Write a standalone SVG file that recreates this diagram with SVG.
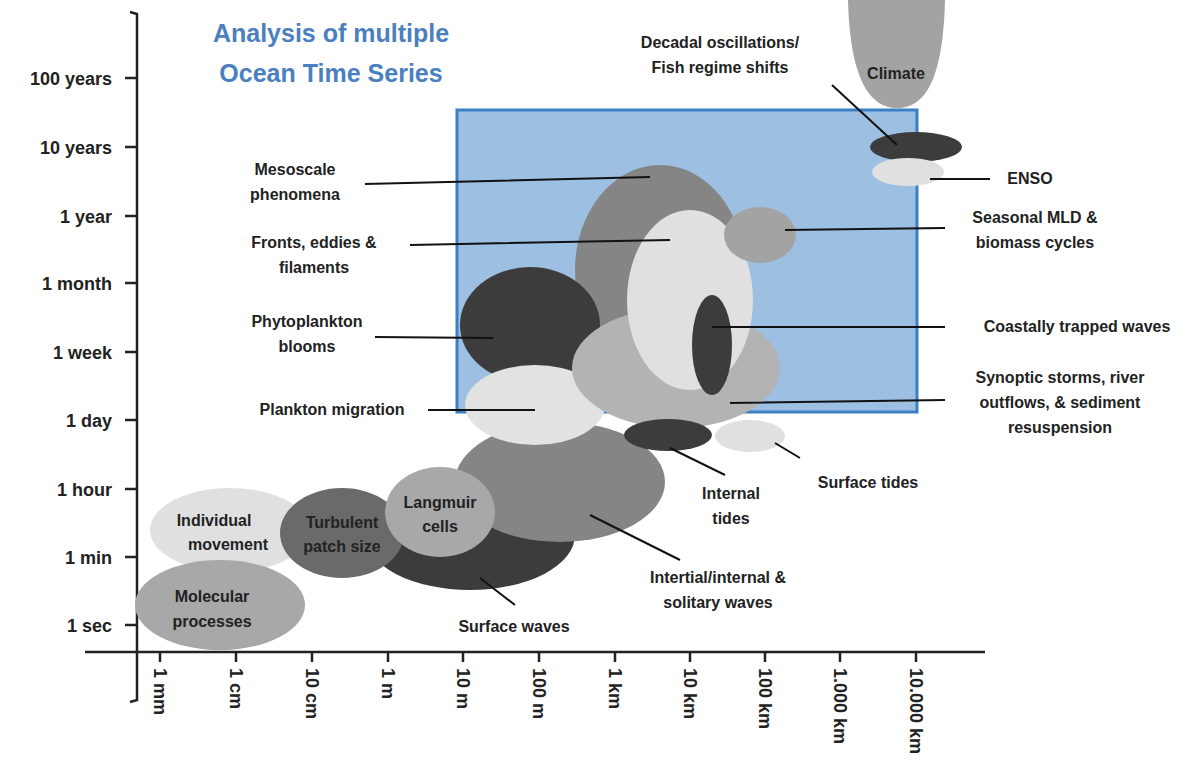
<svg xmlns="http://www.w3.org/2000/svg" width="1200" height="783" viewBox="0 0 1200 783">
<style>
text{font-family:"Liberation Sans",Arial,sans-serif;font-weight:bold;fill:#222}
.l{font-size:16px}
.y{font-size:18px;text-anchor:end}
.x{font-size:18px}
.ld{stroke:#111;stroke-width:2;fill:none}
.ax{stroke:#222;stroke-width:2.5;fill:none}
.d{fill:#3c3c3c}.lt{fill:#e0e0e0}.m{fill:#858585}.g{fill:#a8a8a8}
</style>
<rect width="1200" height="783" fill="#fff"/>
<g id="axes">
<path class="ax" d="M130,12 L137,14 L137,700 L130,702"/>
<path class="ax" d="M85,652 L985,652"/>
<path class="ax" d="M125,78h12M125,147h12M125,216h12M125,283h12M125,352h12M125,420h12M125,489h12M125,557h12M125,625h12"/>
<path class="ax" d="M160,652v10M236,652v10M312,652v10M388,652v10M463,652v10M539,652v10M615,652v10M690,652v10M765,652v10M840,652v10M916,652v10"/>
<text class="y" x="112" y="85">100 years</text><text class="y" x="112" y="154">10 years</text><text class="y" x="112" y="223">1 year</text><text class="y" x="112" y="290">1 month</text><text class="y" x="112" y="359">1 week</text><text class="y" x="112" y="427">1 day</text><text class="y" x="112" y="496">1 hour</text><text class="y" x="112" y="564">1 min</text><text class="y" x="112" y="632">1 sec</text>
<text class="x" transform="translate(154,668) rotate(90)">1 mm</text>
<text class="x" transform="translate(230,668) rotate(90)">1 cm</text>
<text class="x" transform="translate(306,668) rotate(90)">10 cm</text>
<text class="x" transform="translate(382,668) rotate(90)">1 m</text>
<text class="x" transform="translate(457,668) rotate(90)">10 m</text>
<text class="x" transform="translate(533,668) rotate(90)">100 m</text>
<text class="x" transform="translate(609,668) rotate(90)">1 km</text>
<text class="x" transform="translate(684,668) rotate(90)">10 km</text>
<text class="x" transform="translate(759,668) rotate(90)">100 km</text>
<text class="x" transform="translate(834,668) rotate(90)">1.000 km</text>
<text class="x" transform="translate(910,668) rotate(90)">10.000 km</text>
</g>
<g id="title"><text x="331" y="42" text-anchor="middle" font-size="25" style="fill:#4a7fc0">Analysis of multiple</text><text x="331" y="82" text-anchor="middle" font-size="25" style="fill:#4a7fc0">Ocean Time Series</text></g>
<g id="box"><rect x="457" y="110" width="460" height="302" fill="#9dbfe2" stroke="#3b7fc4" stroke-width="3"/></g>
<g id="climate"><path d="M848,0 C850,80 870,108 897,108 C925,108 943,80 945,0 Z" fill="#a3a3a3"/><text class="l" x="896" y="79" text-anchor="middle">Climate</text></g>
<g id="decadal"><ellipse class="d" cx="916" cy="147" rx="46" ry="15"/></g>
<g id="enso"><ellipse class="lt" cx="908" cy="172" rx="36" ry="14"/></g>
<g id="mesoscale"><ellipse class="m" cx="660" cy="270" rx="85" ry="105"/></g>
<g id="phyto"><ellipse class="d" cx="530" cy="325" rx="70" ry="58"/></g>
<g id="surfacewaves"><ellipse class="d" cx="470" cy="535" rx="105" ry="55"/></g>
<g id="inertial"><ellipse class="m" cx="560" cy="482" rx="105" ry="60"/></g>
<g id="individual"><ellipse class="lt" cx="230" cy="530" rx="80" ry="42"/></g>
<g id="molecular"><ellipse class="g" cx="220" cy="605" rx="85" ry="45"/><text class="l" x="212" y="602" text-anchor="middle">Molecular</text><text class="l" x="212" y="627" text-anchor="middle">processes</text></g>
<g id="indtext"><text class="l" x="214" y="526" text-anchor="middle">Individual</text><text class="l" x="228" y="550" text-anchor="middle">movement</text></g>
<g id="turbulent"><ellipse cx="342" cy="533" rx="62" ry="45" fill="#6a6a6a"/><text class="l" x="342" y="528" text-anchor="middle">Turbulent</text><text class="l" x="342" y="552" text-anchor="middle">patch size</text></g>
<g id="langmuir"><ellipse class="g" cx="440" cy="512" rx="55" ry="45"/><text class="l" x="440" y="508" text-anchor="middle">Langmuir</text><text class="l" x="440" y="532" text-anchor="middle">cells</text></g>
<g id="migration"><ellipse cx="535" cy="405" rx="70" ry="40" fill="#e2e2e2"/></g>
<g id="synoptic"><ellipse cx="676" cy="368" rx="104" ry="60" fill="#b3b3b3"/></g>
<g id="fronts"><ellipse class="lt" cx="690" cy="300" rx="63" ry="90"/></g>
<g id="coastal"><ellipse class="d" cx="712" cy="345" rx="20" ry="50"/></g>
<g id="seasonal"><ellipse cx="760" cy="235" rx="36" ry="28" fill="#a3a3a3"/></g>
<g id="internaltides"><ellipse class="d" cx="668" cy="435" rx="44" ry="16"/></g>
<g id="surfacetides"><ellipse class="lt" cx="750" cy="436" rx="35" ry="16"/></g>
<g id="connectors">
<path class="ld" d="M365,184 L650,177M410,245 L670,240M375,337 L493,338M712,327 L945,327M428,410 L535,410M730,403 L945,400M785,230 L945,228M930,179 L990,179M832,85 L897,145M670,448 L725,475M775,443 L800,458M590,515 L680,560M480,578 L515,605"/>
</g>
<g id="labels">
<text class="l" x="720" y="48" text-anchor="middle">Decadal oscillations/</text><text class="l" x="720" y="73" text-anchor="middle">Fish regime shifts</text>
<text class="l" x="1030" y="184" text-anchor="middle">ENSO</text>
<text class="l" x="295" y="175" text-anchor="middle">Mesoscale</text><text class="l" x="295" y="200" text-anchor="middle">phenomena</text>
<text class="l" x="314" y="248" text-anchor="middle">Fronts, eddies &amp;</text><text class="l" x="314" y="273" text-anchor="middle">filaments</text>
<text class="l" x="307" y="327" text-anchor="middle">Phytoplankton</text><text class="l" x="307" y="352" text-anchor="middle">blooms</text>
<text class="l" x="332" y="415" text-anchor="middle">Plankton migration</text>
<text class="l" x="1035" y="223" text-anchor="middle">Seasonal MLD &amp;</text><text class="l" x="1035" y="248" text-anchor="middle">biomass cycles</text>
<text class="l" x="1077" y="332" text-anchor="middle">Coastally trapped waves</text>
<text class="l" x="1060" y="383" text-anchor="middle">Synoptic storms, river</text><text class="l" x="1060" y="408" text-anchor="middle">outflows, &amp; sediment</text><text class="l" x="1060" y="433" text-anchor="middle">resuspension</text>
<text class="l" x="868" y="488" text-anchor="middle">Surface tides</text>
<text class="l" x="731" y="499" text-anchor="middle">Internal</text><text class="l" x="731" y="524" text-anchor="middle">tides</text>
<text class="l" x="718" y="583" text-anchor="middle">Intertial/internal &amp;</text><text class="l" x="718" y="608" text-anchor="middle">solitary waves</text>
<text class="l" x="514" y="632" text-anchor="middle">Surface waves</text>
</g>
</svg>
